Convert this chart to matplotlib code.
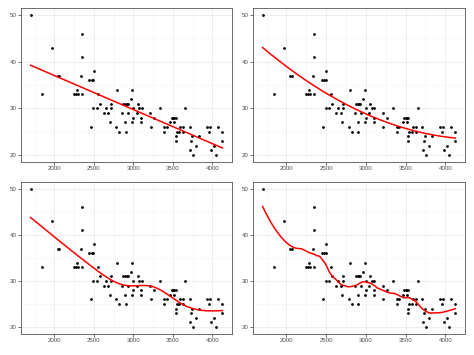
import numpy as np
import matplotlib
matplotlib.use("Agg")
import matplotlib.pyplot as plt
from matplotlib.ticker import MultipleLocator

weight = [1700, 1848, 1970, 2045, 2065, 2250, 2275, 2300, 2290, 2333, 2350, 2350, 2350,
          2443, 2477, 2494, 2500, 2460, 2494, 2535, 2557, 2578, 2629, 2654, 2684, 2705,
          2717, 2717, 2785, 2797, 2823, 2861, 2873, 2895, 2916, 2928, 2899, 2907, 2937,
          2966, 2983, 2987, 3000, 2996, 3042, 3055, 3072, 3105, 3097, 3097, 3211, 3219,
          3262, 3342, 3388, 3392, 3422, 3464, 3485, 3502, 3519, 3536, 3515, 3536, 3536,
          3548, 3582, 3595, 3633, 3629, 3658, 3713, 3722, 3734, 3747, 3755, 3797, 3831,
          3928, 3954, 3970, 3979, 4017, 4046, 4076, 4127, 4118]
mpg = [50, 33, 43, 37, 37, 33, 33, 33, 34, 37, 46, 41, 33,
       36, 36, 36, 38, 26, 30, 30, 33, 31, 29, 30, 29, 27,
       31, 30, 26, 34, 25, 29, 31, 31, 31, 31, 27, 25, 29,
       32, 34, 27, 30, 28, 29, 31, 30, 30, 28, 27, 29, 26,
       28, 30, 26, 25, 26, 27, 28, 28, 28, 28, 27, 24, 23,
       25, 25, 26, 26, 25, 30, 26, 21, 23, 24, 20, 22, 24,
       26, 25, 26, 21, 22, 20, 26, 25, 23]

x_ticks = [2000, 2500, 3000, 3500, 4000]
y_ticks = [20, 30, 40, 50]

x = np.array(weight, float)
y = np.array(mpg, float)


def ns_basis(xv, knots):
    K = len(knots)
    xi_K = knots[-1]

    def d(k, t):
        return (np.clip(t - knots[k], 0, None) ** 3 - np.clip(t - xi_K, 0, None) ** 3) / (xi_K - knots[k])
    cols = [np.ones_like(xv), xv]
    for k in range(K - 2):
        cols.append(d(k, xv) - d(K - 2, xv))
    return np.column_stack(cols)


def ns_fit(xv, yv, df, grid):
    s = 1000.0
    xs = xv / s
    gs = grid / s
    inner = np.quantile(xs, np.linspace(0, 1, df + 1)[1:-1])
    knots = np.concatenate([[xs.min()], inner, [xs.max()]])
    B = ns_basis(xs, knots)
    coef, *_ = np.linalg.lstsq(B, yv, rcond=None)
    return ns_basis(gs, knots) @ coef


def poly_fit(xv, yv, deg, grid):
    m, sd = xv.mean(), xv.std()
    c = np.polyfit((xv - m) / sd, yv, deg)
    return np.polyval(c, (grid - m) / sd)


def loess_fit(xv, yv, span, grid, deg=2):
    n = len(xv)
    q = int(np.floor(span * n))
    out = []
    for g in grid:
        dist = np.abs(xv - g)
        h = np.sort(dist)[q - 1] * 1.0001
        w = np.clip(1 - (dist / h) ** 3, 0, None) ** 3
        X = np.column_stack([(xv - g) ** p for p in range(deg + 1)])
        sw = np.sqrt(w)
        coef, *_ = np.linalg.lstsq(X * sw[:, None], yv * sw, rcond=None)
        out.append(coef[0])
    return np.array(out)


grid = np.linspace(x.min(), x.max(), 400)
fits = [poly_fit(x, y, 1, grid), poly_fit(x, y, 2, grid),
        ns_fit(x, y, 5, grid), loess_fit(x, y, 0.3, grid)]

W, H = 474, 355
fig = plt.figure(figsize=(W / 100, H / 100), dpi=100)
boxes = [(21, 8, 232, 162), (253, 8, 465, 162), (21, 182, 232, 334), (253, 182, 465, 334)]

xr = x.max() - x.min()
for (l, t, r, b), f in zip(boxes, fits):
    ax = fig.add_axes([l / W, 1 - b / H, (r - l) / W, (b - t) / H])
    ax.set_xlim(x.min() - 0.05 * xr, x.max() + 0.05 * xr)
    ax.set_ylim(18.5, 51.5)
    ax.set_xticks(x_ticks)
    ax.set_yticks(y_ticks)
    ax.xaxis.set_minor_locator(MultipleLocator(250))
    ax.yaxis.set_minor_locator(MultipleLocator(5))
    ax.grid(which='major', color='#EBEBEB', lw=0.6)
    ax.grid(which='minor', color='#F4F4F4', lw=0.4)
    ax.set_axisbelow(True)
    ax.tick_params(which='minor', length=0)
    ax.tick_params(which='major', length=2, width=0.5, color='#333333',
                   labelsize=4.4, labelcolor='#4D4D4D', pad=1.2)
    for lab in ax.get_xticklabels() + ax.get_yticklabels():
        lab.set_family('Liberation Sans')
    for sp in ax.spines.values():
        sp.set_color('#555555')
        sp.set_linewidth(0.6)
    ax.scatter(x, y, s=4, color='black', linewidths=0, zorder=3)
    ax.plot(grid, f, color='#FF0000', lw=1.1, zorder=4)

fig.savefig('out.png', dpi=100)
